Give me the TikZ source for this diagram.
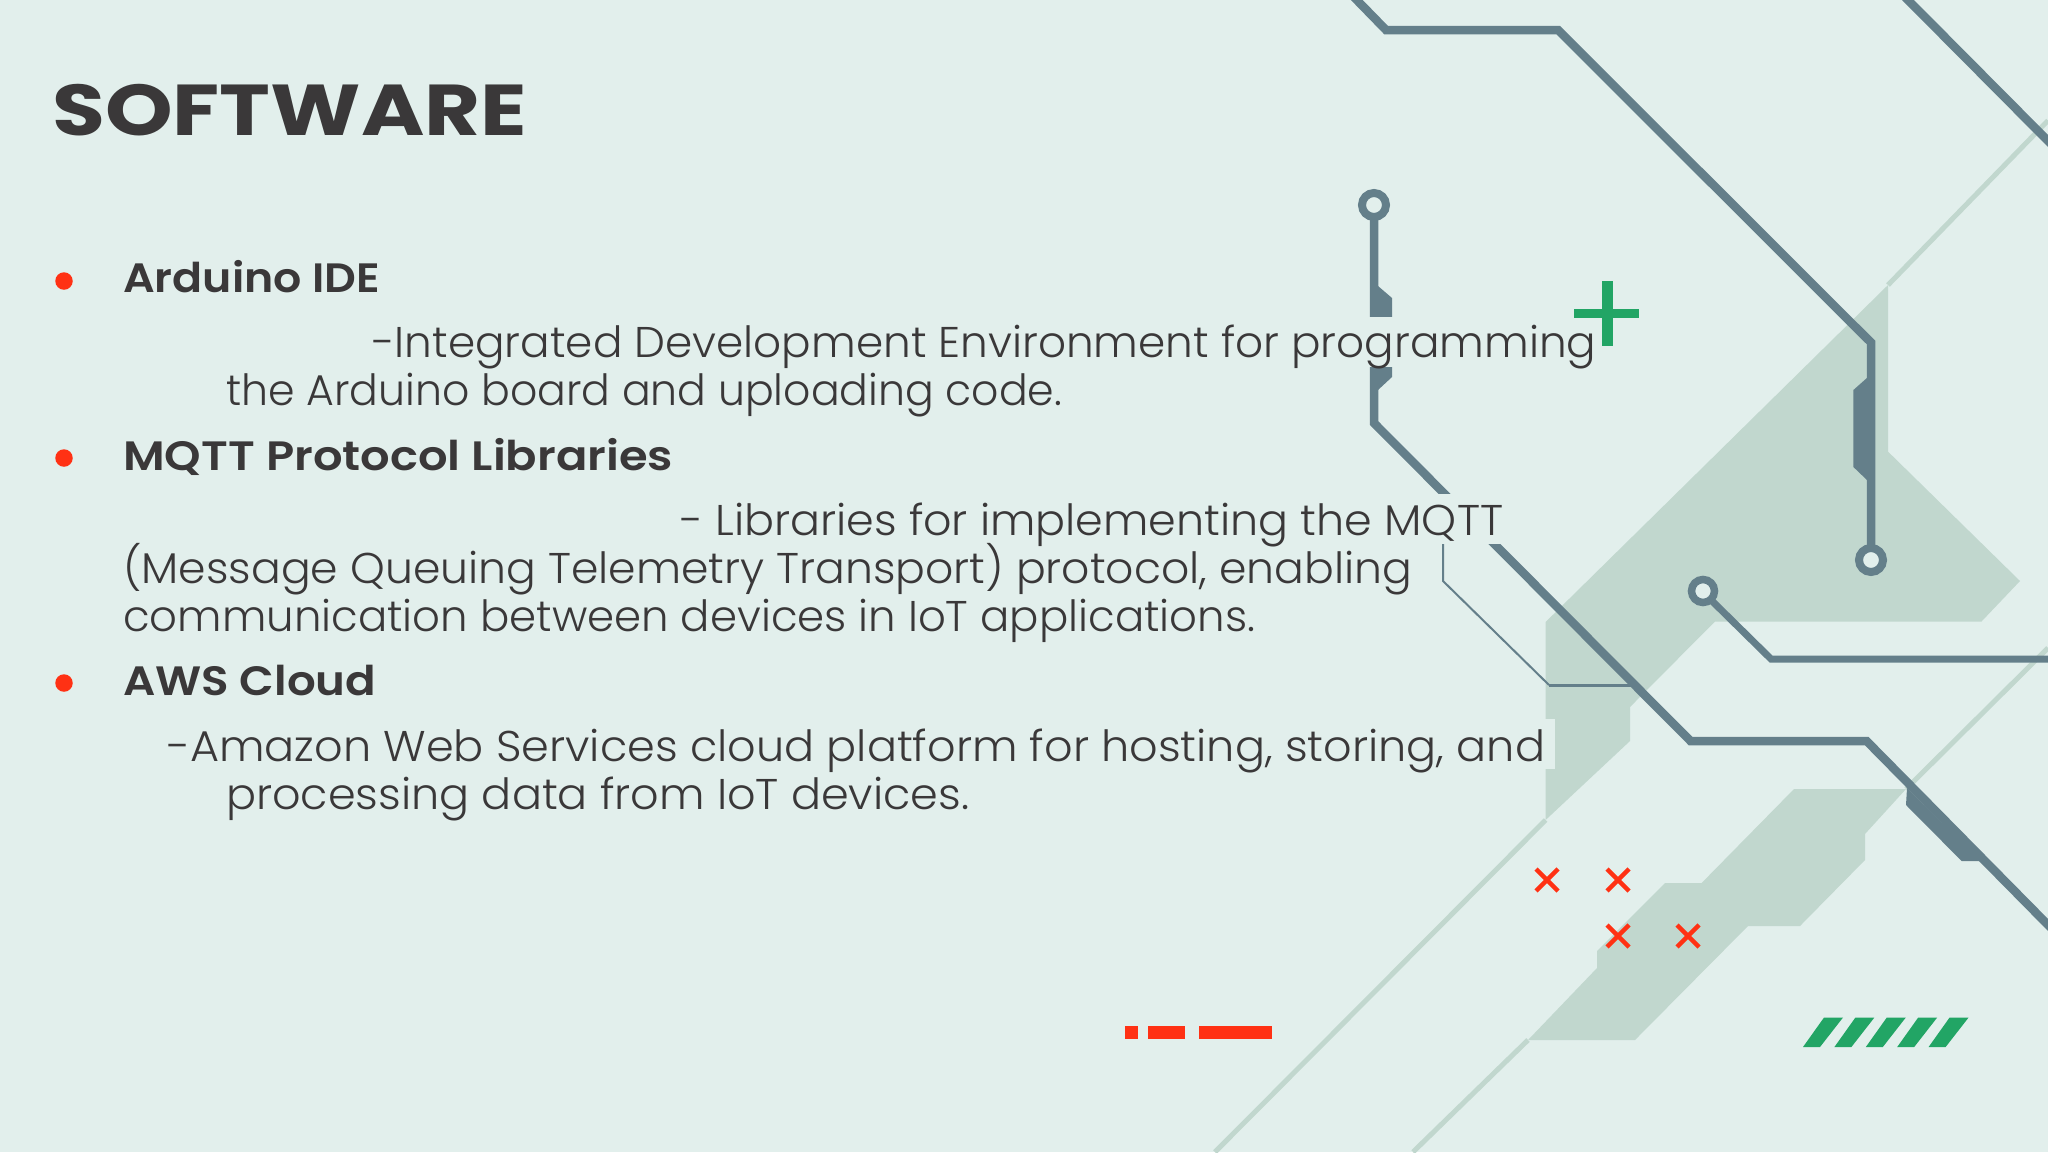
\documentclass[tikz,border=0pt]{standalone}
\usepackage{fontspec}
\usepackage{graphicx}
\setmainfont{Poppins Light}
\newfontfamily\headf{Poppins SemiBold}
\newfontfamily\titlef{Poppins Bold}
\definecolor{bgc}{HTML}{E2EFEC}
\definecolor{lgreen}{HTML}{C1D7CE}
\definecolor{slate}{HTML}{647F8A}
\definecolor{dgreen}{HTML}{22A565}
\definecolor{redc}{HTML}{FF3114}
\definecolor{ink}{HTML}{3A3839}
\newcommand{\fitw}[2]{\resizebox{#1pt}{\height}{#2}}
\tikzset{
  wire/.style={draw=slate,line width=8.5pt,line join=miter},
  lightline/.style={draw=lgreen,line width=5pt},
  lightshape/.style={fill=lgreen},
  pad/.style={circle,draw=slate,fill=bgc,line width=8pt,minimum size=24pt,inner sep=0pt},
  thick bit/.style={fill=slate},
  patch/.style={fill=bgc},
  body/.style={anchor=base west,inner sep=0pt,text=ink,font=\fontsize{43}{48}\selectfont},
  head/.style={anchor=base west,inner sep=0pt,text=ink,font=\headf\fontsize{41}{48}\selectfont},
  title/.style={anchor=base west,inner sep=0pt,text=ink,font=\titlef\fontsize{72}{80}\selectfont},
  bulletdot/.style={circle,fill=redc,minimum size=17.5pt,inner sep=0pt},
  xmark/.style={draw=redc,line width=4.5pt},
  reddash/.style={fill=redc},
  stripe/.style={fill=dgreen}
}
\begin{document}
\begin{tikzpicture}[x=1pt,y=-1pt]
\fill[bgc] (0,0) rectangle (2048,1152);
\useasboundingbox (0,0) rectangle (2048,1152);
% light shapes and lines
\draw[lightline] (1888,285) -- (2048,120.5);
\draw[lightline] (1545.6,820) -- (1215,1152);
\draw[lightline] (1906,789) -- (2048,648);
\draw[lightline] (1528,1040) -- (1413,1152);
\fill[lightshape] (1888,285) -- (1888,451.6) -- (2020,581) -- (1981.5,621.5) -- (1715,621.5) -- (1630,707) -- (1630,741) -- (1545.6,820) -- (1545.6,622) -- cycle;
\fill[lightshape] (1794,789) -- (1906,789) -- (1865,834) -- (1865,860) -- (1800,926) -- (1748,926) -- (1635,1040) -- (1528,1040) -- (1597,968) -- (1597,951) -- (1665,883) -- (1701.6,883) -- cycle;
% wires
\draw[wire] (1349,-8) -- (1386,30) -- (1558,30) -- (1871,342.5) -- (1871,547);
\fill[thick bit] (1868,377) -- (1853.4,390) -- (1853.4,467) -- (1868,481) -- cycle;
\node[pad] (padA) at (1871,560) {};
\draw[wire] (1904,-4) -- (2052,145);
\draw[draw=slate,line width=2pt] (1443,544) -- (1443,581) -- (1549,685);
\draw[draw=slate,line width=3pt] (1549,685) -- (1631,685);
\draw[wire] (1374,215) -- (1374,423) -- (1690.5,741) -- (1866.6,741) -- (2052,929);
\node[pad] (padB) at (1374,205) {};
\fill[thick bit] (1378,286) -- (1392,298) -- (1392,377) -- (1378,390) -- cycle;
\fill[thick bit] (1907,788) -- (1906,805) -- (1961.6,861) -- (1980,861) -- cycle;
\draw[wire,line width=7pt] (1708,597) -- (1771,659) -- (2050,659);
\node[pad,line width=7.5pt,minimum size=23pt] (padC) at (1703,591) {};
% text background patches
\fill[patch] (1300,317) rectangle (1600,367);
\fill[patch] (1300,494) rectangle (1510,544);
\fill[patch] (1400,719) rectangle (1555,769);
% accents
\fill[dgreen] (1574,309) rectangle (1639,318);
\fill[dgreen] (1602,281) rectangle (1613,346);
\foreach \cx/\cy in {1547/880,1618/880,1618/936,1688/936}{
  \draw[xmark] (\cx-11,\cy-11) -- (\cx+11,\cy+11) (\cx-11,\cy+11) -- (\cx+11,\cy-11);
}
\fill[reddash] (1125,1026) rectangle (1138,1039);
\fill[reddash] (1148,1026) rectangle (1185,1039);
\fill[reddash] (1198.5,1026) rectangle (1272,1039);
\foreach \i in {0,1,2,3,4}{
  \fill[stripe] (1803+31.4*\i,1047) -- (1824+31.4*\i,1017.5) -- (1843+31.4*\i,1017.5) -- (1820+31.4*\i,1047) -- cycle;
}
% text
\node[title] (t) at (52,135) {\fitw{475}{SOFTWARE}};
\node[bulletdot] (b1) at (64,281) {};
\node[bulletdot] (b2) at (64,458) {};
\node[bulletdot] (b3) at (64,683) {};
\node[head] (h1) at (123,292) {\fitw{257}{Arduino IDE}};
\node[body] (l1) at (372,357) {\fitw{1224}{-Integrated Development Environment for programming}};
\node[body] (l2) at (226,405) {\fitw{836}{the Arduino board and uploading code.}};
\node[head] (h2) at (123,470) {\fitw{550}{MQTT Protocol Libraries}};
\node[body] (l3) at (680,535) {\fitw{823}{- Libraries for implementing the MQTT}};
\node[body] (l4) at (123,583) {\fitw{1289}{(Message Queuing Telemetry Transport) protocol, enabling}};
\node[body] (l5) at (123,631) {\fitw{1132}{communication between devices in IoT applications.}};
\node[head] (h3) at (123,695) {\fitw{253}{AWS Cloud}};
\node[body] (l6) at (167,761) {\fitw{1378}{-Amazon Web Services cloud platform for hosting, storing, and}};
\node[body] (l7) at (226,809) {\fitw{743}{processing data from IoT devices.}};
\end{tikzpicture}
\end{document}
